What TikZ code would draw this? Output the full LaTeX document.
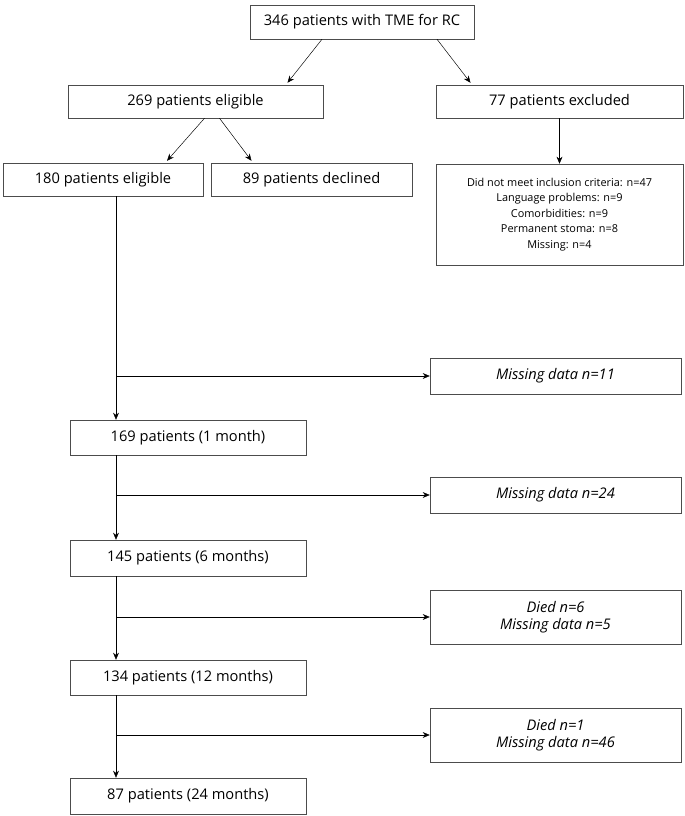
\documentclass[tikz,border=0pt]{standalone}
\usepackage{fontspec}
\setmainfont{Open Sans}
\usetikzlibrary{positioning,calc,arrows.meta}
\begin{document}
\begin{tikzpicture}[x=0.03cm,y=-0.03cm,
    box/.style={rectangle, draw=black!70, fill=white, inner sep=0pt, font=\fontsize{12.5}{14}\selectfont},
    note/.style={box, font=\fontsize{12.5}{15}\selectfont\itshape, align=center},
    arr/.style={-{Stealth[length=6pt,width=5pt]}, thin}
]
    \useasboundingbox (0,0) rectangle (685,816);
    % screening
    \node[box, minimum width=224*0.03cm, minimum height=34*0.03cm] (total) at (362,22) {346 patients with TME for RC};
    \node[box, minimum width=255*0.03cm, minimum height=33*0.03cm] (elig) at (195.5,101.5) {269 patients eligible};
    \node[box, minimum width=247*0.03cm, minimum height=33*0.03cm] (excl) at (559.5,101.5) {77 patients excluded};
    \node[box, minimum width=200*0.03cm, minimum height=33*0.03cm] (incl) at (103,179.5) {180 patients eligible};
    \node[box, minimum width=201*0.03cm, minimum height=33*0.03cm] (decl) at (311.5,179.5) {89 patients declined};
    \node[box, minimum width=247*0.03cm, minimum height=101*0.03cm, align=center,
        font=\fontsize{9.3}{13.2}\selectfont] (reasons) at (559.5,214.5)
        {Did not meet inclusion criteria: n=47\\Language problems: n=9\\Comorbidities: n=9\\Permanent stoma: n=8\\Missing: n=4};
    % follow-up
    \node[box, minimum width=236*0.03cm, minimum height=35*0.03cm] (m1) at (188,437.5) {169 patients (1 month)};
    \node[box, minimum width=236*0.03cm, minimum height=36*0.03cm] (m6) at (188,558) {145 patients (6 months)};
    \node[box, minimum width=236*0.03cm, minimum height=35*0.03cm] (m12) at (188,677.5) {134 patients (12 months)};
    \node[box, minimum width=236*0.03cm, minimum height=36*0.03cm] (m24) at (188,796) {87 patients (24 months)};
    % losses
    \node[note, minimum width=251*0.03cm, minimum height=36*0.03cm] (l1) at (555.5,376) {Missing data n=11};
    \node[note, minimum width=251*0.03cm, minimum height=36*0.03cm] (l6) at (555.5,495) {Missing data n=24};
    \node[note, minimum width=251*0.03cm, minimum height=54*0.03cm] (l12) at (555.5,617) {Died n=6\\Missing data n=5};
    \node[note, minimum width=251*0.03cm, minimum height=54*0.03cm] (l24) at (555.5,735) {Died n=1\\Missing data n=46};
    % connectors
    \draw[arr] (total.south) ++(-40,0) coordinate (t1) (t1) -- ($(elig.north)+(92,-2)$);
    \draw[arr] ($(total.south)+(75,0)$) -- ($(excl.north)+(-89,-2)$);
    \draw[arr] ($(elig.south)+(9,0)$) -- ($(incl.north)+(64,-2)$);
    \draw[arr] ($(elig.south)+(24,0)$) -- ($(decl.north)+(-60,-2)$);
    \draw[arr] (excl) -- (reasons);
    \coordinate (v0) at ($(incl.south)+(13,0)$);
    \coordinate (v1) at ($(m1.south)+(-72,0)$);
    \coordinate (v2) at ($(m6.south)+(-72,0)$);
    \coordinate (v3) at ($(m12.south)+(-72,0)$);
    \draw[arr] (v0) -- (v0 |- m1.north);
    \draw[arr] (v0 |- l1) -- (l1.west);
    \draw[arr] (v1) -- (v1 |- m6.north);
    \draw[arr] (v1 |- l6) -- (l6.west);
    \draw[arr] (v2) -- (v2 |- m12.north);
    \draw[arr] (v2 |- l12) -- (l12.west);
    \draw[arr] (v3) -- (v3 |- m24.north);
    \draw[arr] (v3 |- l24) -- (l24.west);
\end{tikzpicture}
\end{document}
